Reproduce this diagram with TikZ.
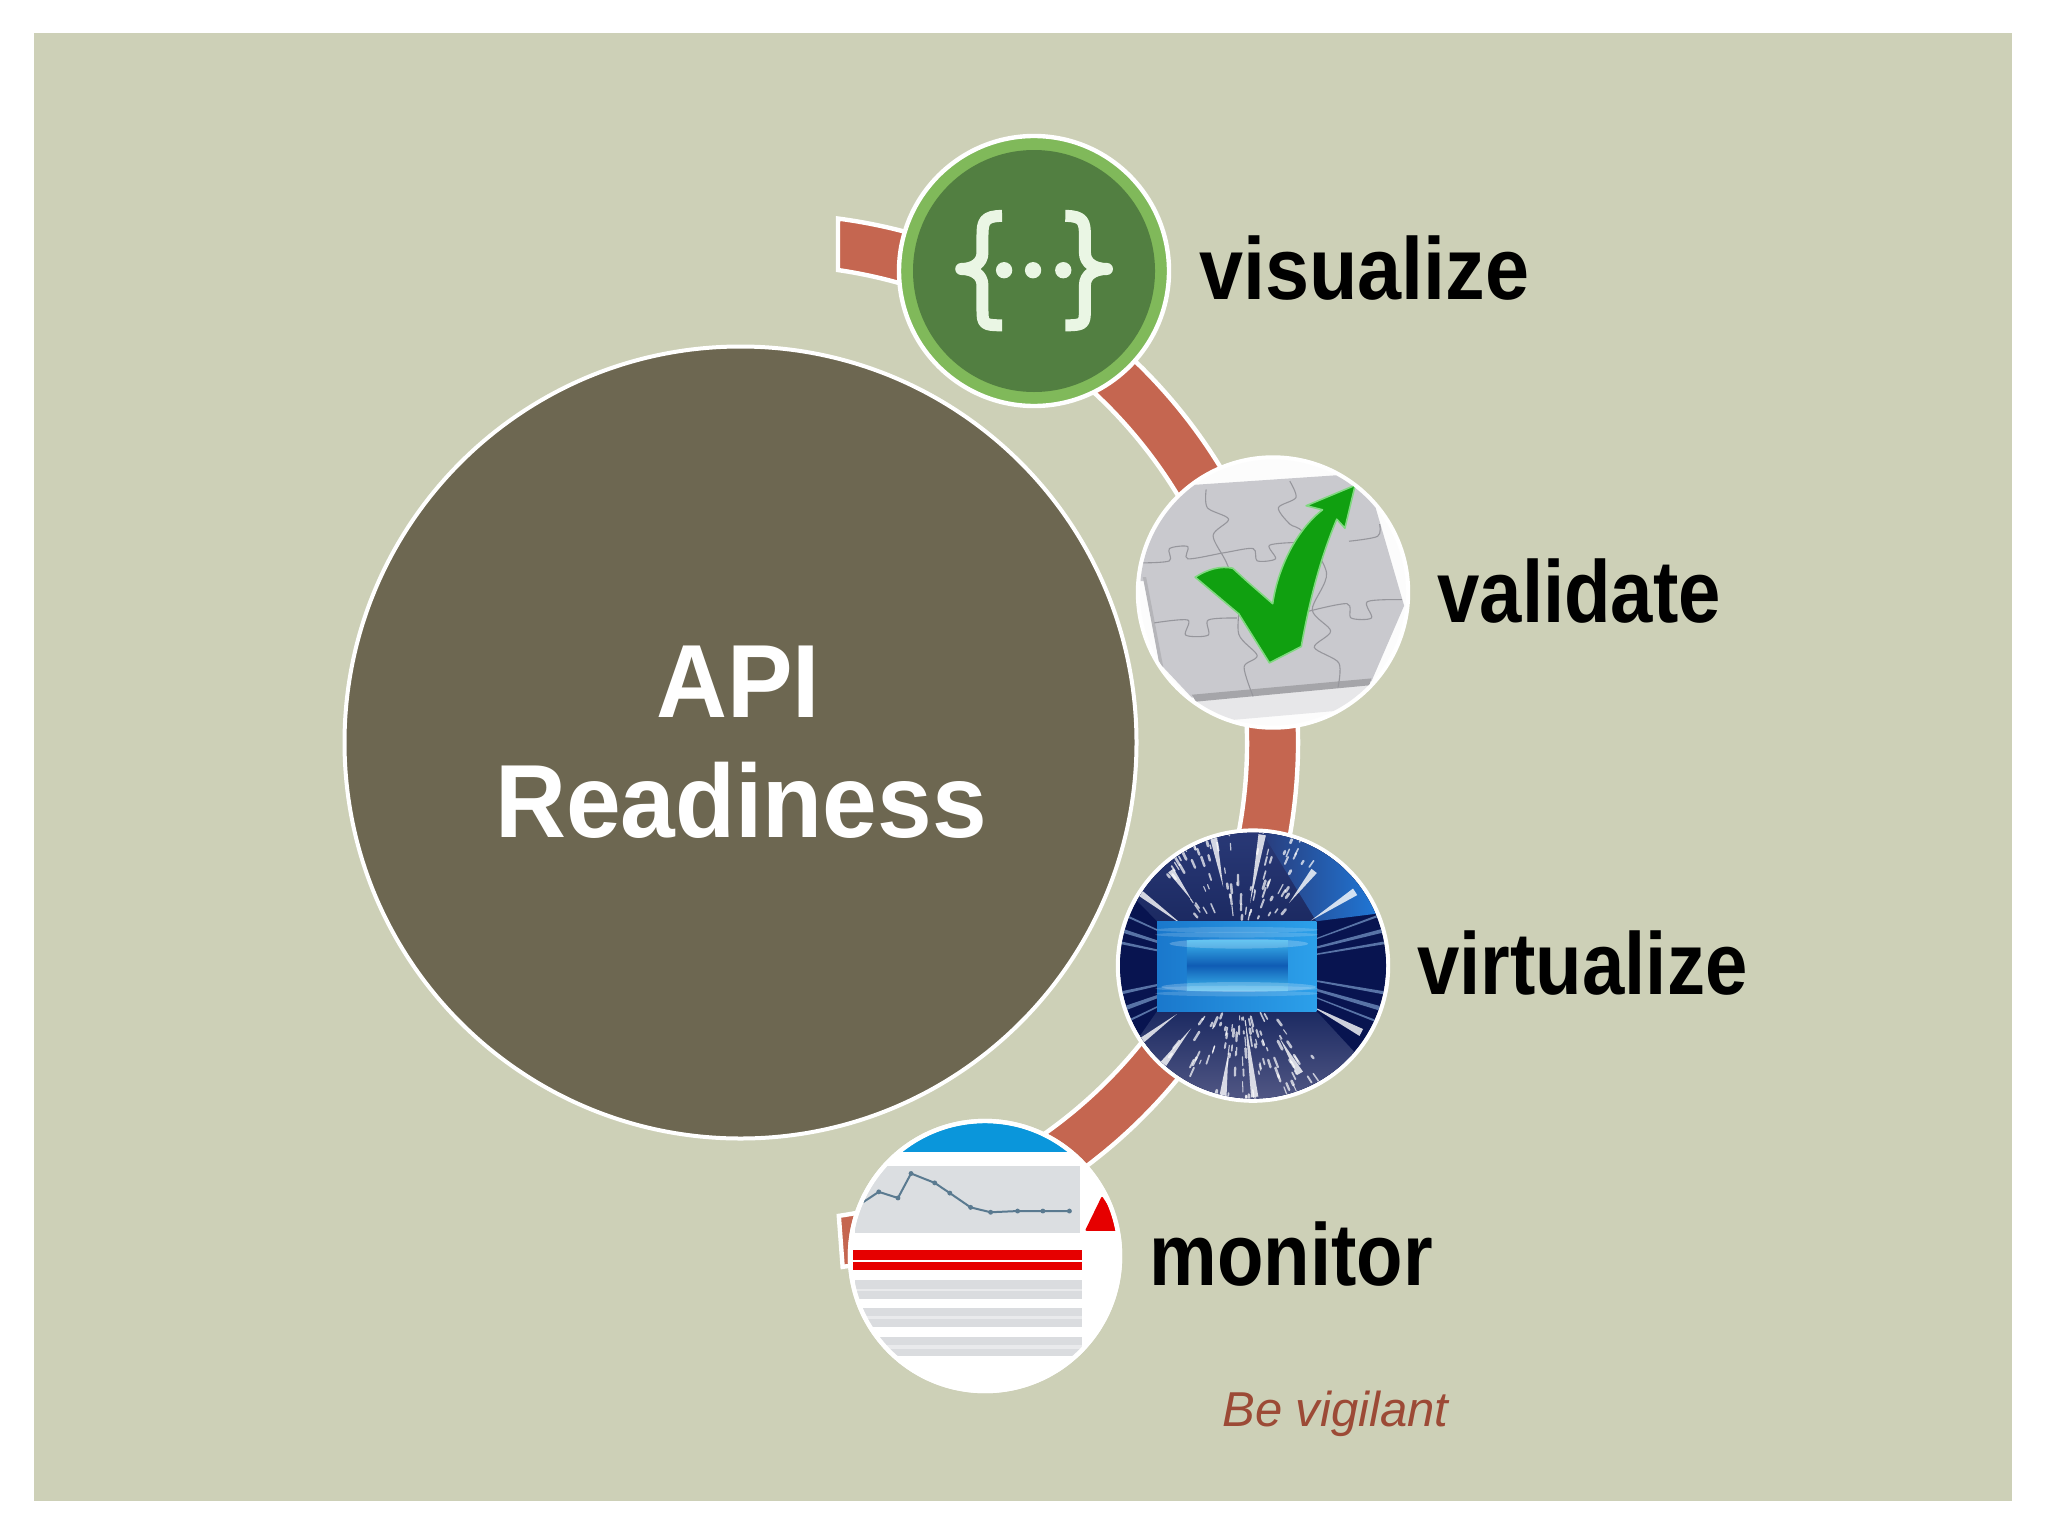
\documentclass[tikz,border=0pt]{standalone}
\usepackage{fontspec}
\setmainfont{Liberation Sans}
\newfontfamily\labelfont[FakeStretch=0.9]{Liberation Sans Bold}
\newfontfamily\labelfontb[FakeStretch=0.865]{Liberation Sans Bold}
\newfontfamily\hubfont[FakeStretch=0.945]{Liberation Sans Bold}
\usetikzlibrary{calc}
\definecolor{panelc}{HTML}{CDD0B7}
\definecolor{hubc}{HTML}{6D6751}
\definecolor{ringc}{HTML}{C56650}
\definecolor{greenlt}{HTML}{80B95A}
\definecolor{greendk}{HTML}{527F41}
\definecolor{bracec}{HTML}{EAF6E4}
\definecolor{checkc}{HTML}{10A010}
\definecolor{checklt}{HTML}{80D880}
\definecolor{puzzlec}{HTML}{C9C9CE}
\definecolor{puzzleln}{HTML}{96969C}
\definecolor{tunnelc}{HTML}{081450}
\definecolor{sigilc}{HTML}{9C4A36}
\definecolor{skyc}{HTML}{0A96DB}
\definecolor{chartc}{HTML}{DBDEE1}
\definecolor{rowc}{HTML}{DADCDF}
\definecolor{linec}{HTML}{5A7A90}
\definecolor{alertc}{HTML}{E60000}
\definecolor{navya}{HTML}{2A3A78}
\definecolor{navyb}{HTML}{1C2A62}
\definecolor{navyc}{HTML}{5A5F8A}
\definecolor{bluea}{HTML}{1F78D8}
\definecolor{rectl}{HTML}{1A78CC}
\definecolor{rectr}{HTML}{2CA0EA}
\definecolor{recth}{HTML}{3BB5EE}
\definecolor{rectm}{HTML}{0F5CB4}
\tikzset{
  spot/.style={circle,draw=white,line width=2.2pt,inner sep=0pt,minimum size=135pt},
  tag/.style={anchor=base west,inner sep=0pt,text=black,font=\labelfont\fontsize{44}{44}\selectfont},
  tagb/.style={tag,font=\labelfontb\fontsize{44}{44}\selectfont},
  hubtext/.style={anchor=base,inner sep=0pt,text=white,font=\hubfont\fontsize{52}{52}\selectfont},
  cropa/.style={shift={(400pt,-60pt)},x=0.20408pt,y=-0.20408pt},
  cropb/.style={shift={(400pt,-400pt)},x=0.20408pt,y=-0.20408pt},
  braceline/.style={draw=bracec,line width=6pt,line cap=butt,line join=round},
  jig/.style={draw=puzzleln,line width=0.55pt},
}
\begin{document}
\begin{tikzpicture}[x=0.5pt,y=-0.5pt]
\useasboundingbox (0,0) rectangle (2048,1536);
\fill[white] (0,0) rectangle (2048,1536);
\fill[panelc] (34,33) rectangle (2012,1501);

% central circle
\node[circle,draw=white,line width=2pt,fill=hubc,inner sep=0pt,minimum size=396pt] (hub) at (740.5,742.5) {};

% ring
\coordinate (ringc0) at (769,743);
\draw[draw=white,line width=2.2pt,fill=ringc]
  ($(ringc0)+(-82.5:529)$) arc[start angle=-82.5,end angle=82.0,radius=529]
  -- ($(ringc0)+(81.6:478)$) arc[start angle=81.6,end angle=-81.7,radius=478] -- cycle;

% visualize
\node[spot,fill=greenlt] (visual) at (1034,271) {};
\fill[greendk] (visual.center) circle (121);
\begin{scope}[cropa]
  \path[braceline] (495,235) .. controls (450,235) and (447,250) .. (447,285) -- (447,325)
     .. controls (447,350) and (425,365) .. (395,365) .. controls (425,365) and (447,380) .. (447,405)
     -- (447,465) .. controls (447,500) and (450,503) .. (495,503);
  \path[braceline] (650,235) .. controls (695,235) and (698,250) .. (698,285) -- (698,325)
     .. controls (698,350) and (720,365) .. (752,365) .. controls (720,365) and (698,380) .. (698,405)
     -- (698,465) .. controls (698,500) and (695,503) .. (650,503);
  \fill[bracec] (500,368) circle (20) (571,368) circle (20) (645,368) circle (20);
\end{scope}

% validate
\node[spot,fill=white] (valid) at (1273,592.5) {};
\begin{scope}
  \clip (valid.center) circle (133);
  \begin{scope}[cropa]
    \fill[white!94!puzzlec] (820,820) rectangle (1500,1500);
    \fill[puzzlec!45!white] (940,1425) -- (1420,1380) -- (1400,1440) -- (1000,1475) -- cycle;
    \fill[puzzlec] (800,905) -- (1350,868) -- (1400,915) -- (1480,1190) -- (1400,1375) -- (960,1415) -- (880,1330) -- (845,1130) -- (800,1130) -- cycle;
    \fill[puzzlec!82!black] (960,1408) -- (1400,1368) -- (1395,1385) -- (970,1425) -- cycle;
    \fill[puzzlec!90!black] (840,1120) -- (848,1120) -- (890,1340) -- (880,1330) -- cycle;
    \draw[jig] plot[smooth] coordinates {(995,905) (998,950) (1050,978) (1012,1018) (1045,1085) (1075,1170) (1075,1260) (1120,1312) (1088,1340) (1110,1412)};
    \draw[jig] plot[smooth] coordinates {(1200,885) (1215,925) (1172,950) (1200,990) (1232,1010) (1290,1110) (1255,1200) (1300,1252) (1260,1292) (1320,1330) (1318,1390)};
    \draw[jig] plot[smooth] coordinates {(840,1085) (905,1080) (905,1050) (950,1045) (950,1075) (1040,1060) (1110,1050) (1120,1080) (1165,1075) (1150,1042) (1215,1035)};
    \draw[jig] plot[smooth] coordinates {(1345,1032) (1415,1020) (1420,990)};
    \draw[jig] plot[smooth] coordinates {(868,1232) (950,1225) (945,1262) (1000,1262) (1000,1225) (1070,1220)};
    \draw[jig] plot[smooth] coordinates {(1240,1205) (1340,1185) (1350,1220) (1400,1220) (1390,1180) (1475,1175)};
    \path[fill=checkc,draw=checklt,line width=0.8pt,line join=round]
      (968,1120) .. controls (1000,1100) and (1030,1092) .. (1060,1098) -- (1095,1130) -- (1158,1185)
      .. controls (1170,1100) and (1215,1005) .. (1280,955) -- (1240,945) -- (1360,895) -- (1335,1000) -- (1315,978)
      .. controls (1285,1050) and (1255,1140) .. (1228,1290) -- (1150,1330) -- (1075,1210) -- cycle;
  \end{scope}
\end{scope}

% virtualize
\node[spot,fill=tunnelc] (virt) at (1253,965.6) {};
\begin{scope}
  \clip (virt.center) circle (133);
  \begin{scope}[cropb]
    \fill[tunnelc] (770,70) rectangle (1450,750);
    \begin{scope}
      \clip (875,517) -- (1265,517) -- (1500,770) -- (700,770) -- cycle;
      \shade[top color=navyb,bottom color=navyc] (700,517) rectangle (1500,770);
    \end{scope}
    \begin{scope}
      \clip (875,297) -- (1265,297) -- (1560,60) -- (640,60) -- cycle;
      \shade[top color=navya,bottom color=navyb] (640,60) rectangle (1560,297);
    \end{scope}
    \begin{scope}
      \clip (1120,60) -- (1560,60) -- (1560,260) -- (1265,297) -- cycle;
      \shade[left color=navya,right color=bluea] (1120,60) rectangle (1420,297);
    \end{scope}
    % side streaks
    \foreach \ya/\yb in {312/322,345/352,470/478,510/522,272/278,550/556}{
      \fill[white!55!bluea,opacity=0.55] (1075,410) -- (780,\ya) -- (780,\yb) -- cycle;
      \fill[white!55!bluea,opacity=0.55] (1075,410) -- (1440,\ya) -- (1440,\yb) -- cycle;
    }
    \pgfmathsetseed{7}
    \foreach \i in {1,...,90}{
      \pgfmathsetmacro{\ang}{-130+rnd*80}
      \pgfmathsetmacro{\rad}{115+rnd*230}
      \pgfmathsetmacro{\len}{6+rnd*20}
      \pgfmathsetmacro{\wid}{0.5+rnd*0.9}
      \draw[white,opacity=0.7,line width=\wid pt,line cap=round]
        ($(1075,410)+(\ang:\rad)$) -- ($(1075,410)+(\ang:\rad+\len)$);
    }
    \foreach \i in {1,...,100}{
      \pgfmathsetmacro{\ang}{50+rnd*80}
      \pgfmathsetmacro{\rad}{115+rnd*230}
      \pgfmathsetmacro{\len}{6+rnd*20}
      \pgfmathsetmacro{\wid}{0.5+rnd*0.9}
      \draw[white,opacity=0.7,line width=\wid pt,line cap=round]
        ($(1075,410)+(\ang:\rad)$) -- ($(1075,410)+(\ang:\rad+\len)$);
    }
    % tapered streaks at the corners
    \foreach \ang/\rone/\rtwo in {217/170/330,143/190/330,-33/210/340,28/200/340,83/130/320,97/210/320,-80/160/330,-101/200/330,-125/200/290,128/190/300,60/200/300,-52/200/300}{
      \fill[white,opacity=0.8] ($(1075,410)+(\ang:\rone)$) -- ($(1075,410)+(\ang+1.6:\rtwo)$) -- ($(1075,410)+(\ang-1.6:\rtwo)$) -- cycle;
    }
    % screens
    \shade[left color=rectl,right color=rectr] (875,297) rectangle (1265,517);
    \shade[top color=recth,bottom color=recth,middle color=rectm] (948,343) rectangle (1195,467);
    \fill[white,opacity=0.22] (1075,352) ellipse (170 and 12);
    \fill[white,opacity=0.22] (1075,458) ellipse (190 and 12);
    \foreach \ya/\yb in {318/330,462/474}{
      \fill[white,opacity=0.16] (1070,\ya) ellipse (200 and 7);
      \fill[white,opacity=0.16] (1070,\yb) ellipse (200 and 7);
    }
  \end{scope}
\end{scope}

% monitor
\node[spot,fill=white] (mon) at (985,1256) {};
\begin{scope}
  \clip (mon.center) circle (133);
  \begin{scope}[cropb]
    \fill[skyc] (120,780) rectangle (790,862);
    \fill[chartc] (135,897) rectangle (685,1060);
    \draw[linec,line width=1pt] (155,985) -- (193,960) -- (240,975) -- (272,915) -- (330,938) -- (367,963) -- (418,998) -- (467,1010) -- (533,1007) -- (595,1007) -- (660,1007);
    \foreach \p in {(193,960),(240,975),(272,915),(330,938),(367,963),(418,998),(467,1010),(533,1007),(595,1007),(660,1007)}
      \fill[linec] \p circle (6);
    \fill[alertc] (130,1103) rectangle (690,1127);
    \fill[alertc] (130,1132) rectangle (690,1152);
    \foreach \a/\b in {1175/1223,1245/1292,1316/1363}
      \fill[rowc!60!white] (135,\a) rectangle (690,\b);
    \foreach \a/\b in {1175/1197,1203/1223,1245/1264,1272/1292,1316/1336,1345/1363}
      \fill[rowc] (135,\a) rectangle (690,\b);
    \path[fill=alertc,draw=alertc,line width=1pt,line join=round] (702,1053) -- (740,975) -- (790,1053) -- cycle;
  \end{scope}
\end{scope}
\draw[white,line width=2.2pt] (mon.center) circle (135);

% texts
\node[hubtext] (t1) at (738,717) {API};
\node[hubtext] (t2) at (741,837) {Readiness};
\node[tag] (l1) at (1199,299) {visualize};
\node[tagb] (l2) at (1437,622) {validate};
\node[tagb] (l3) at (1417,994) {virtualize};
\node[tagb] (l4) at (1149,1285) {monitor};
\node[anchor=base west,inner sep=0pt,text=sigilc,font=\itshape\fontsize{24.5}{24.5}\selectfont] (l5) at (1222,1426) {Be vigilant};
\end{tikzpicture}
\end{document}
